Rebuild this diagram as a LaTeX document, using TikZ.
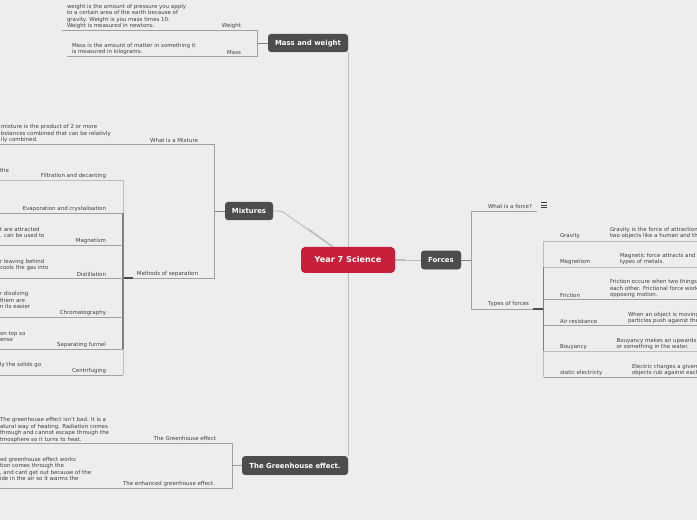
\documentclass[tikz,border=0pt]{standalone}
\usepackage{fontspec}
\setmainfont{DejaVu Sans}
\usetikzlibrary{shadows}
\pgfdeclarelayer{back}
\pgfsetlayers{back,main}
\definecolor{bg}{HTML}{EDEDED}
\definecolor{txtc}{HTML}{404040}
\definecolor{darkn}{HTML}{4D4D4D}
\definecolor{redn}{HTML}{C8203A}
\definecolor{linec}{HTML}{A0A0A0}
\definecolor{lightl}{HTML}{BDBDBD}
\definecolor{midl}{HTML}{808080}
\tikzset{
  x=0.75pt,y=-0.75pt,
  lbl/.style={anchor=south west,inner sep=0pt,outer sep=0pt,text=txtc,align=left,yshift=-0.6pt,
    font=\fontsize{4.1}{4.9}\selectfont},
  lblr/.style={lbl,anchor=south east,align=right},
  topic/.style={fill=darkn,text=white,rounded corners=2.2pt,inner sep=0pt,
    text height=3.9pt,text depth=0pt,
    font=\fontsize{5.2}{6}\selectfont\bfseries,
    drop shadow={shadow xshift=0.2pt,shadow yshift=-0.4pt,opacity=0.25}},
  central/.style={fill=redn,text=white,rounded corners=3pt,inner sep=0pt,
    text height=4.5pt,text depth=0pt,
    font=\fontsize{6.1}{7}\selectfont\bfseries},
  conn/.style={draw=linec,line width=0.7pt},
  connl/.style={draw=lightl,line width=0.7pt},
  connm/.style={draw=midl,line width=0.7pt},
  connd/.style={draw=darkn,line width=0.8pt},
  main/.style={draw=lightl,line width=0.9pt},
  mainm/.style={draw=lightl,line width=1.15pt},
  mainb/.style={draw=lightl,line width=1.45pt},
}
\begin{document}
\begin{tikzpicture}
\useasboundingbox (0,0) rectangle (697,520);
\begin{pgfonlayer}{back}
\fill[bg] (0,0) rectangle (697,520);
\end{pgfonlayer}
\clip (0,0) rectangle (697,520);

% end points of the underlines
\coordinate (wl) at (62,30.5);  \coordinate (wr) at (257.5,30.5);
\coordinate (ml) at (67,56.5);  \coordinate (mr) at (257.5,56.5);
\coordinate (mixl) at (0,144.5); \coordinate (mixr) at (214.5,144.5);
\coordinate (sepl) at (133,278); \coordinate (sepr) at (214.5,278);
\coordinate (sepj) at (123,278);
\foreach \n/\y in {a/180.5,b/213,c/245.5,d/278,e/317.5,f/349.5,g/375.5}{
  \coordinate (l\n) at (0,\y); \coordinate (r\n) at (123,\y);}
\coordinate (gl) at (0,443.5); \coordinate (gr) at (232.5,443.5);
\coordinate (el) at (0,488.5); \coordinate (er) at (232.5,488.5);
\coordinate (fl) at (471.5,211); \coordinate (fr) at (537,211);
\coordinate (tl) at (471.5,309); \coordinate (tr) at (533,309);
\coordinate (tj) at (543.5,309);
\foreach \n/\y in {p/241,q/267,r/299.5,s/325.5,t/351.5,u/377.5}{
  \coordinate (x\n) at (543.5,\y); \coordinate (y\n) at (697,\y);}
\coordinate (mixbend) at (283,212);
\coordinate (mixmid) at (308,229);
\coordinate (mixend) at (333,247);
\coordinate (mup) at (348.5,52);
\coordinate (mupm) at (348.5,120);
\coordinate (mupb) at (348.5,190);
\coordinate (mdownb) at (348.5,310);
\coordinate (mdownm) at (348.5,385);
\coordinate (mdown) at (348.5,456);
\coordinate (forcemid) at (405,260);

% main topics
\node[central,minimum width=70.5pt,minimum height=19.5pt] (year) at (348,260) {Year 7 Science};
\node[topic,minimum width=60pt,minimum height=13.5pt] (mass) at (308,43) {Mass and weight};
\node[topic,minimum width=36pt,minimum height=13.5pt] (mix) at (249,211) {Mixtures};
\node[topic,minimum width=30pt,minimum height=14pt] (forces) at (441,260) {Forces};
\node[topic,minimum width=79.5pt,minimum height=14pt] (green) at (295,465.5) {The Greenhouse effect.};

% connectors
\begin{pgfonlayer}{back}
\draw[main] (mup) -- (mdown);
\draw[mainm] (mupm) -- (mdownm);
\draw[mainb] (mupb) -- (mdownb);
% Mass and weight
\draw[conn] (wl) -- (wr) -- (mr) -- (ml);
\draw[connm] (wr |- mass.west) -- (mass.west);
% Mixtures
\draw[connl] (mix.east) .. controls (278,211) and (281,211) .. (mixbend) -- (mixend);
\draw[main,line width=1.2pt] (mixmid) -- (mixend);
\draw[conn] (mixl) -- (mixr) -- (sepr) -- (sepl);
\draw[connm] (mixr |- mix.west) -- (mix.west);
\draw[connd] (sepj) -- (sepl);
\draw[connl] (ra) -- (rb);
\draw[connm,line width=0.9pt] (rb) -- (rf);
\draw[connl] (rf) -- (rg);
\foreach \n in {b,c,d,e,f,g}{\draw[conn] (l\n) -- (r\n);}
\draw[connl] (la) -- (ra);
% Greenhouse
\draw[conn] (gl) -- (gr) -- (er) -- (el);
\draw[conn] (gr |- green.west) -- (green.west);
% Forces
\draw[mainb] (year.east) -- (forcemid);
\draw[connl] (forcemid) -- (forces.west);
\draw[connm] (forces.east) -- (fl |- forces.east);
\draw[conn] (fr) -- (fl) -- (tl) -- (tr);
\draw[connd] (tr) -- (tj);
\draw[connl] (xp) -- (xq);
\draw[connm,line width=0.9pt] (xq) -- (xt);
\draw[connl] (xt) -- (xu);
\foreach \n in {r,s,u}{\draw[conn] (x\n) -- (y\n);}
\foreach \n in {p,q,t}{\draw[connl] (x\n) -- (y\n);}
\end{pgfonlayer}

% note icon
\foreach \y in {202.5,205,207.5}{\draw[txtc,line width=0.45pt] (541,\y) -- (547,\y);}

% Mass and weight
\node[lbl] (t1) at (67,28) {weight is the amount of pressure you apply\\to a certain area of the earth because of\\gravity. Weight is you mass times 10.\\Weight is measured in newtons.};
\node[lblr] (t2) at (241,28) {Weight};
\node[lbl] (t3) at (72,54) {Mass is the amount of matter in something it\\is measured in kilograms.};
\node[lblr] (t4) at (241,54) {Mass};
% Mixtures
\node[lbl] (t5) at (1,142) {mixture is the product of 2 or more\\bstances combined that can be relativly\\ily combined.};
\node[lblr] (t6) at (198,142) {What is a Mixture};
\node[lblr] (t7) at (198,276) {Methods of separation};
\node[lbl] (t8) at (0,172) {the};
\node[lblr] (n1) at (106,178) {Filtration and decanting};
\node[lblr] (n2) at (106,211) {Evaporation and crystalisation};
\node[lblr] (n3) at (106,243) {Magnetism};
\node[lblr] (n4) at (106,276) {Distillation};
\node[lblr] (n5) at (106,315) {Chromatography};
\node[lblr] (n6) at (106,347) {Separating funnel};
\node[lblr] (n7) at (106,373) {Centrifuging};
\node[lbl] (d3) at (0,237) {t are attracted\\. can be used to};
\node[lbl] (d4) at (0,270) {r leaving behind\\cools the gas into};
\node[lbl] (d5) at (0,308) {r disolving\\them are\\n its easier};
\node[lbl] (d6) at (0,341) {on top so\\ense};
\node[lbl] (d7) at (0,367) {ly the solids go};
% Greenhouse
\node[lbl] (g1) at (0,441.5) {The greenhouse effect isn't bad. It is a\\atural way of heating. Radiation comes\\through and cannot escape through the\\tmosphere so it turns to heat.};
\node[lblr] (g2) at (216,440) {The Greenhouse effect};
\node[lbl] (g3) at (0,480) {ed greenhouse effect works\\tion comes through the\\, and cant get out because of the\\ide in the air so it warms the};
\node[lblr] (g4) at (215,486) {The enhanced greenhouse effect.};
% Forces
\node[lblr] (f1) at (532,208) {What is a force?};
\node[lblr] (f2) at (529,306) {Types of forces};
\node[lbl] (k1) at (560,238) {Gravity};
\node[lbl] (k2) at (560,264) {Magnetism};
\node[lbl] (k3) at (560,297) {Friction};
\node[lbl] (k4) at (560,323) {Air resistance};
\node[lbl] (k5) at (560,349) {Bouyancy};
\node[lbl] (k6) at (560,375) {static electricty};
\node[lbl] (v1) at (610,238) {Gravity is the force of attraction\\two objects like a human and th};
\node[lbl] (v2) at (620,264) {Magnetic force attracts and\\types of metals.};
\node[lbl] (v3) at (610,297) {Friction occure when two things\\each other. Frictional force work\\opposing motion.};
\node[lbl] (v4) at (628,323) {When an object is moving\\particles push against the};
\node[lbl] (v5) at (616.5,349) {Bouyancy makes an upwards\\or something in the water.};
\node[lbl] (v6) at (632,375) {Electric charges a given\\objects rub against each};
\end{tikzpicture}
\end{document}
